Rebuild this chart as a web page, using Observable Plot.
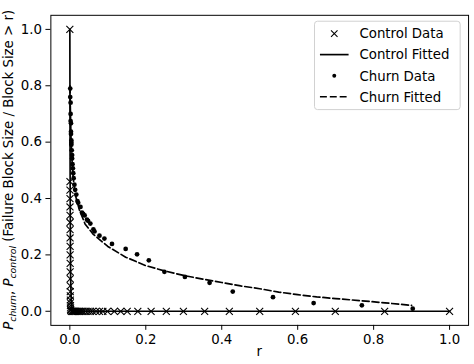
<!DOCTYPE html>
<html><head><meta charset="utf-8">
<script src="https://cdn.jsdelivr.net/npm/d3@7"></script>
<script src="https://cdn.jsdelivr.net/npm/@observablehq/plot@0.6"></script>
<style>
html,body{margin:0;padding:0;background:#fff;overflow:hidden}
#c{width:474px;height:364px;overflow:hidden}
</style></head><body><div id="c"></div>
<script>
// ---- data ----
const controlDataR = [0.0, 0.0003, 0.0003, 0.0004, 0.0004, 0.0005, 0.0005, 0.0006, 0.0006, 0.0007, 0.0007, 0.0008, 0.0008, 0.0009, 0.001, 0.0011, 0.0012, 0.0013, 0.0014, 0.0016, 0.0018, 0.002, 0.0025,
  0.004, 0.006, 0.008, 0.010, 0.012, 0.014, 0.016, 0.019, 0.023, 0.026, 0.029, 0.032, 0.035, 0.041, 0.048, 0.054, 0.060, 0.069, 0.078, 0.087, 0.099, 0.117, 0.134, 0.151, 0.179, 0.214, 0.254, 0.299, 0.355, 0.420, 0.500, 0.594, 0.699, 0.829, 1.0];
const controlDataP = [1.0, 0.46, 0.43, 0.40, 0.37, 0.34, 0.315, 0.29, 0.26, 0.23, 0.20, 0.17, 0.14, 0.115, 0.09, 0.07, 0.055, 0.04, 0.03, 0.02, 0.012, 0.006, 0.003,
  0, 0, 0, 0, 0, 0, 0, 0, 0, 0, 0, 0, 0, 0, 0, 0, 0, 0, 0, 0, 0, 0, 0, 0, 0, 0, 0, 0, 0, 0, 0, 0, 0, 0, 0];

const controlFitR = [0.0, 0.0005, 0.001, 0.002, 0.004, 0.008, 1.0];
const controlFitP = [1.0, 0.6, 0.35, 0.12, 0.02, 0.0, 0.0];

const churnDataR = [0.001, 0.001, 0.002, 0.002, 0.002, 0.003, 0.003, 0.003, 0.004, 0.004, 0.004, 0.005, 0.006, 0.006, 0.007, 0.008, 0.009, 0.010, 0.012, 0.014, 0.017, 0.020, 0.022, 0.028, 0.032, 0.035, 0.039, 0.045, 0.048, 0.054, 0.062, 0.065, 0.078, 0.091, 0.111, 0.147, 0.177, 0.208, 0.249, 0.303, 0.368, 0.429, 0.535, 0.642, 0.769, 0.903];
const churnDataP = [0.79, 0.76, 0.74, 0.70, 0.675, 0.667, 0.637, 0.629, 0.606, 0.598, 0.591, 0.571, 0.554, 0.542, 0.522, 0.507, 0.49, 0.472, 0.449, 0.431, 0.414, 0.391, 0.385, 0.370, 0.350, 0.346, 0.34, 0.325, 0.321, 0.311, 0.291, 0.283, 0.268, 0.258, 0.239, 0.221, 0.202, 0.181, 0.140, 0.122, 0.101, 0.070, 0.050, 0.029, 0.021, 0.009];

const churnFitR = [0.0005, 0.001, 0.003, 0.005, 0.009, 0.015, 0.025, 0.04, 0.061, 0.1, 0.147, 0.2, 0.25, 0.3, 0.35, 0.4, 0.45, 0.5, 0.55, 0.6, 0.65, 0.7, 0.77, 0.83, 0.9];
const churnFitP = [0.80, 0.74, 0.62, 0.55, 0.47, 0.41, 0.36, 0.31, 0.274, 0.23, 0.192, 0.162, 0.143, 0.127, 0.114, 0.102, 0.090, 0.080, 0.068, 0.059, 0.051, 0.045, 0.037, 0.030, 0.021];

const xTicks = [0.0, 0.2, 0.4, 0.6, 0.8, 1.0];
const yTicks = [0.0, 0.2, 0.4, 0.6, 0.8, 1.0];
const legendLabels = ["Control Data", "Control Fitted", "Churn Data", "Churn Fitted"];
const xLabel = "r";

// ---- tables ----
const zip = (R, P) => R.map((r, i) => ({r, p: P[i]}));
const controlData = zip(controlDataR, controlDataP);
const controlFit = zip(controlFitR, controlFitP);
const churnData = zip(churnDataR, churnDataP);
const churnFit = zip(churnFitR, churnFitP);

const FONT = "DejaVu Sans";
const FS = 13.5;
const DASH = "7,3";
const LW = 1.7;

const svg = Plot.plot({
  width: 480, height: 364,
  marginLeft: 51, marginRight: 6, marginTop: 15, marginBottom: 35,
  style: {fontFamily: FONT, fontSize: FS + "px", color: "black", background: "white"},
  x: {domain: [-0.05, 1.05], ticks: xTicks, tickFormat: d3.format(".1f"), tickSize: 5, tickPadding: 4, label: null},
  y: {domain: [-0.05, 1.05], ticks: yTicks, tickFormat: d3.format(".1f"), tickSize: 5, tickPadding: 4, label: null},
  marks: [
    Plot.line(controlFit, {x: "r", y: "p", stroke: "black", strokeWidth: LW}),
    Plot.line(churnFit, {x: "r", y: "p", stroke: "black", strokeWidth: LW, strokeDasharray: DASH}),
    Plot.dot(controlData, {x: "r", y: "p", symbol: "times", r: 3.3, stroke: "black", strokeWidth: 1.1}),
    Plot.dot(churnData, {x: "r", y: "p", r: 2.4, fill: "black", stroke: "none"}),
    Plot.frame({stroke: "black", strokeWidth: 1})
  ]
});

const s = d3.select(svg);
// y label with subscripts
const yl = s.append("text")
  .attr("transform", "translate(13.5,172) rotate(-90)")
  .attr("text-anchor", "middle")
  .attr("font-family", FONT).attr("font-size", FS).attr("fill", "black");
yl.append("tspan").attr("font-style", "italic").text("P");
yl.append("tspan").attr("font-style", "italic").attr("font-size", FS * 0.7).attr("dy", 3).text("churn");
yl.append("tspan").attr("dy", -3).text(", ");
yl.append("tspan").attr("font-style", "italic").text("P");
yl.append("tspan").attr("font-style", "italic").attr("font-size", FS * 0.7).attr("dy", 3).text("control");
yl.append("tspan").attr("dy", -3).text(" (Failure Block Size / Block Size > r)");

// x label
s.append("text").attr("x", 262.5).attr("y", 361).attr("text-anchor", "middle")
  .attr("font-family", FONT).attr("font-size", FS).attr("fill", "black").text(xLabel);

// legend
const lg = s.append("g").attr("font-family", FONT).attr("font-size", FS).attr("text-anchor", "start");
lg.append("rect").attr("x", 318.5).attr("y", 21.5).attr("width", 147.5).attr("height", 89.5)
  .attr("rx", 3).attr("fill", "white").attr("fill-opacity", 0.8).attr("stroke", "#d0d0d0");
const rowsY = [34, 55.3, 76.7, 98];
legendLabels.forEach((t, i) => {
  lg.append("text").attr("x", 364).attr("y", rowsY[i]).attr("dy", "0.36em")
    .attr("text-anchor", "start").attr("fill", "black").text(t);
});
lg.append("path").attr("transform", `translate(338.5,${rowsY[0]})`)
  .attr("d", d3.symbol(d3.symbolTimes, 30)()).attr("stroke", "black").attr("stroke-width", 1.1).attr("fill", "none");
lg.append("line").attr("x1", 324).attr("x2", 353).attr("y1", rowsY[1]).attr("y2", rowsY[1])
  .attr("stroke", "black").attr("stroke-width", LW);
lg.append("circle").attr("cx", 338.5).attr("cy", rowsY[2]).attr("r", 2).attr("fill", "black");
lg.append("line").attr("x1", 324).attr("x2", 353).attr("y1", rowsY[3]).attr("y2", rowsY[3])
  .attr("stroke", "black").attr("stroke-width", LW).attr("stroke-dasharray", DASH);

document.getElementById("c").appendChild(svg);
</script>
</body></html>
